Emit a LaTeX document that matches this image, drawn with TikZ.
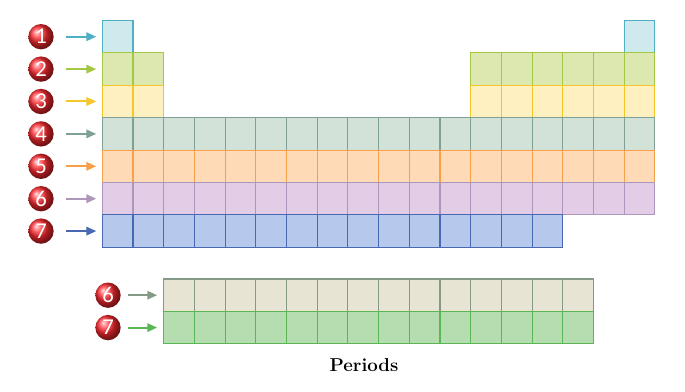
\documentclass[tikz,border=0pt]{standalone}
\usepackage{fontspec}
\newfontfamily\numfont{Carlito}
\usetikzlibrary{arrows.meta,positioning}
\definecolor{fill1}{HTML}{CFEAED}\definecolor{line1}{HTML}{4FB0C4}
\definecolor{fill2}{HTML}{DDE7B0}\definecolor{line2}{HTML}{A4C846}
\definecolor{fill3}{HTML}{FFF0C2}\definecolor{line3}{HTML}{F5C62A}
\definecolor{fill4}{HTML}{D2E2D9}\definecolor{line4}{HTML}{7FA094}
\definecolor{fill5}{HTML}{FFDAB6}\definecolor{line5}{HTML}{F6A04A}
\definecolor{fill6}{HTML}{E2CCE6}\definecolor{line6}{HTML}{AC97BA}
\definecolor{fill7}{HTML}{B6C8EB}\definecolor{line7}{HTML}{4868B4}
\definecolor{fillla6}{HTML}{E8E4D3}\definecolor{linela6}{HTML}{859A86}
\definecolor{fillla7}{HTML}{B6DDB0}\definecolor{linela7}{HTML}{5AB654}
\definecolor{badgered}{HTML}{FF2A30}

\begin{document}
\begin{tikzpicture}[
    x=0.75pt, y=-0.75pt,
    cell/.style={draw=line#1, fill=fill#1, line width=0.8pt, inner sep=0pt,
                 outer sep=0pt, minimum width=23.03pt, minimum height=24.3pt},
    badge/.style={circle, shading=ball, ball color=badgered, minimum size=19pt,
                  inner sep=0pt, text=white, font=\numfont\fontsize{17}{17}\selectfont},
    arrow/.style={-{Triangle[length=2.6mm,width=2.2mm]}, line width=1.5pt, draw=line#1}
]
\useasboundingbox (0,0) rectangle (685,392);

% main table
\foreach \r/\cols in {1/{1,18}, 2/{1,2,13,14,15,16,17,18}, 3/{1,2,13,14,15,16,17,18},
                      4/{1,...,18}, 5/{1,...,18}, 6/{1,...,18}, 7/{1,...,15}}{
  \foreach \c in \cols
    \node[cell=\r] (c-\r-\c) at ({102.3+(\c-0.5)*30.7}, {20.5+(\r-0.5)*32.4}) {};
  \node[badge] (n\r) at (41, {20.5+(\r-0.5)*32.4}) {\r};
  \draw[arrow=\r, shorten <=9.4pt, shorten >=4.5pt] (n\r) -- (c-\r-1);
}

% lanthanides and actinides
\foreach \r/\y in {6/295.2, 7/327.6}{
  \foreach \c in {1,...,14}
    \node[cell=la\r] (c-la\r-\c) at ({163.7+(\c-0.5)*30.7}, \y) {};
  \node[badge] (m\r) at (108, \y) {\r};
  \draw[arrow=la\r, shorten <=5.6pt, shorten >=4.9pt] (m\r) -- (c-la\r-1);
}

\node[font=\fontsize{14}{16}\selectfont\bfseries] (title) at (364, 365) {Periods};
\end{tikzpicture}
\end{document}
